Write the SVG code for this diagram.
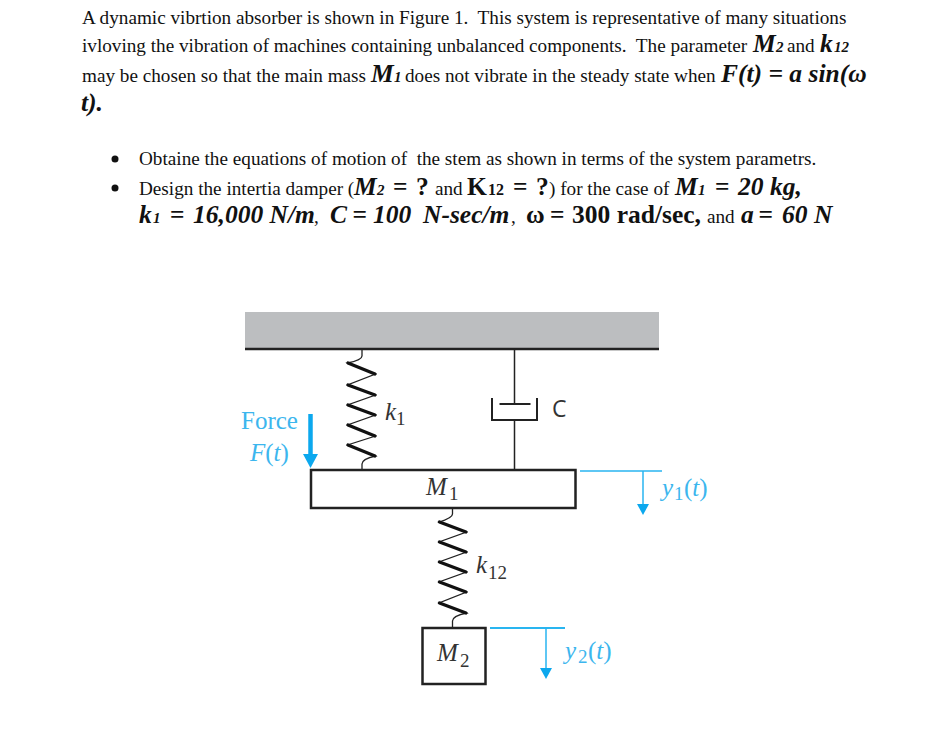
<svg xmlns="http://www.w3.org/2000/svg" width="946" height="738" viewBox="0 0 946 738">
<style>
text{font-family:"Liberation Serif","Times New Roman",serif;fill:#111;white-space:pre}
.b{font-size:19.2px}
.bi{font-weight:bold;font-style:italic;font-size:25.5px}
.bo{font-weight:bold;font-size:25.5px}
.s{font-weight:bold;font-style:italic;font-size:15px}
.so{font-weight:bold;font-size:16px}
.bm{font-weight:bold;font-style:italic;font-size:25.5px}
.sp{stroke:#222;fill:none;stroke-width:1.3}
.th{stroke:#111;fill:none;stroke-width:3.2;stroke-linecap:round}
.cy{stroke:#29b5f0;fill:none}
.cyf{fill:#0ca8ee}
.ct{fill:#3cb6ee;font-size:25px}
.cs{font-size:19px}
.lab{fill:#333;font-size:25px}
.ls{font-size:19px;font-style:normal}
.i{font-style:italic}
</style>
<rect width="946" height="738" fill="#fff"/>
<g id="text">
<text class="b" x="82" y="24">A dynamic vibrtion absorber is shown in Figure 1.  This system is representative of many situations</text>
<text class="b" x="82" y="52">ivloving the vibration of machines containing unbalanced components.  The parameter <tspan class="bm" x="753">M</tspan><tspan class="s" x="776">2</tspan><tspan x="787">and</tspan><tspan class="bm" x="820">k</tspan><tspan class="s" x="834">12</tspan></text>
<text class="b" x="82" y="82">may be chosen so that the main mass <tspan class="bm" x="371">M</tspan><tspan class="s" x="394">1</tspan><tspan x="405">does not vibrate in the steady state when </tspan><tspan class="bi" x="721">F(t) = a sin(ω</tspan></text>
<text class="bi" x="81" y="111">t).</text>
<circle cx="115" cy="159" r="3.5" fill="#111"/>
<circle cx="115" cy="188" r="3.5" fill="#111"/>
<text class="b" x="139" y="165">Obtaine the equations of motion of  the stem as shown in terms of the system parametrs.</text>
<text class="b" x="139" y="195">Design the intertia damper (<tspan class="bm" x="354">M</tspan><tspan class="s" x="377">2</tspan><tspan class="bo" x="393">=</tspan><tspan class="bo" x="416">?</tspan><tspan x="435">and</tspan><tspan class="bo" x="467">K</tspan><tspan class="so" x="488">12</tspan><tspan class="bo" x="513">=</tspan><tspan class="bo" x="536">?</tspan><tspan x="549">) for the case of</tspan><tspan class="bm" x="675">M</tspan><tspan class="s" x="698">1</tspan><tspan class="bo" x="715">=</tspan><tspan class="bi" x="738">20 kg,</tspan></text>
<text class="bi" y="223"><tspan x="139">k</tspan><tspan class="s" x="153">1</tspan><tspan font-style="normal" x="170">=</tspan><tspan x="193">16,000 N/m</tspan><tspan class="b" font-weight="normal" font-style="normal" x="314">,</tspan><tspan x="330">C</tspan><tspan font-style="normal" x="352.500">=</tspan><tspan x="373">100</tspan><tspan x="423">N-sec/m</tspan><tspan class="b" font-weight="normal" font-style="normal" x="511">,</tspan><tspan font-style="normal" x="526">ω</tspan><tspan font-style="normal" x="550">=</tspan><tspan font-style="normal" x="572">300 rad/sec,</tspan><tspan class="b" font-weight="normal" font-style="normal" x="707">and</tspan><tspan x="741">a</tspan><tspan font-style="normal" x="758.500">=</tspan><tspan x="782">60 N</tspan></text>
</g>
<g id="ground">
<rect x="245" y="312" width="414" height="36" fill="#bcbec0"/>
<line x1="245" y1="349" x2="659" y2="349" stroke="#222" stroke-width="2.5"/>
</g>
<g id="connectors">
<g id="spring-k1">
<path class="sp" d="M362 349V356Q362 360 347.500 363L375.500 374 347.500 385 375.500 395 347.500 405 375.500 415 347.500 425 375.500 436 347.500 445 375.500 456Q362 459 362 464V470"/>
<path class="th" d="M348 363L375 374M348 385L375 395M348 405L375 415M348 425L375 436M348 445L375 456"/>
</g>
<g id="spring-k12">
<path class="sp" d="M452.500 508V514Q452.500 518 439 522L466.500 532 439 542 466.500 552 439 562 466.500 572 439 582 466.500 592 439 603 466.500 613Q452.500 616 452.500 621V628"/>
<path class="th" d="M439.500 522L466 532M439.500 542L466 552M439.500 562L466 572M439.500 582L466 592M439.500 603L466 613"/>
</g>
<g id="damper" stroke="#222" fill="none" stroke-width="1.5">
<path d="M514.500 349V404M514.500 420V470"/>
<path d="M499.500 404H530.500" stroke-width="2"/>
<path d="M492 398V420H537V398" stroke-width="2"/>
</g>
<g id="force-arrow">
<line x1="310.500" y1="414" x2="310.500" y2="457" stroke="#0ca8ee" stroke-width="4.500"/>
<polygon class="cyf" points="303,454 318,454 310.500,468"/>
</g>
<g id="y1-arrow">
<line class="cy" x1="580" y1="471" x2="662" y2="471" stroke-width="1.500"/>
<line class="cy" x1="643" y1="471" x2="643" y2="505" stroke-width="1.500"/>
<polygon class="cyf" points="637,504 649,504 643,515"/>
</g>
<g id="y2-arrow">
<line class="cy" x1="490" y1="628" x2="565" y2="628" stroke-width="2"/>
<line class="cy" x1="546" y1="628" x2="546" y2="668" stroke-width="1.500"/>
<polygon class="cyf" points="540,668 552,668 546,679"/>
</g>
</g>
<g id="M1">
<rect x="311" y="470" width="264.500" height="38" fill="#fff" stroke="#222" stroke-width="2.500"/>
<text class="lab" y="495"><tspan class="i" x="426">M</tspan><tspan class="ls" x="449" dy="5">1</tspan></text>
</g>
<g id="M2">
<rect x="422.500" y="628" width="63" height="56" fill="#fff" stroke="#222" stroke-width="2.500"/>
<text class="lab" y="661"><tspan class="i" x="437">M</tspan><tspan class="ls" x="460" dy="6">2</tspan></text>
</g>
<g id="labels">
<text class="ct" x="241" y="429">Force</text>
<text class="ct" x="250" y="461"><tspan class="i">F</tspan>(<tspan class="i">t</tspan>)</text>
<text class="lab" y="420"><tspan class="i" x="385">k</tspan><tspan class="ls" x="396" dy="5">1</tspan></text>
<text class="lab" y="573"><tspan class="i" x="476">k</tspan><tspan class="ls" x="488" dy="6">12</tspan></text>
<text x="552" y="416.500" font-size="23" style="font-family:'Open Sans',sans-serif;fill:#333">C</text>
<text class="ct" y="496"><tspan class="i" x="662">y</tspan><tspan class="cs" x="674" dy="4">1</tspan><tspan x="684" dy="-4">(</tspan><tspan class="i">t</tspan>)</text>
<text class="ct" y="659"><tspan class="i" x="565">y</tspan><tspan class="cs" x="578" dy="4">2</tspan><tspan x="588" dy="-4">(</tspan><tspan class="i">t</tspan>)</text>
</g>
</svg>
